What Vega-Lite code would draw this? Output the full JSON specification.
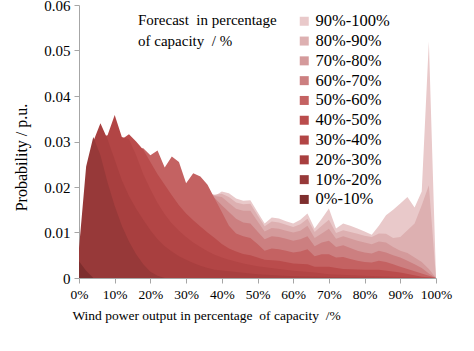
{
  "$schema": "https://vega.github.io/schema/vega-lite/v6.json",
  "width": 357,
  "height": 273,
  "autosize": {"type": "none"},
  "padding": {"left": 79, "top": 5, "right": 38, "bottom": 73},
  "config": {
    "font": "Liberation Serif",
    "view": {"stroke": null},
    "axis": {"domainColor": "#a6a6a6", "tickColor": "#a6a6a6", "grid": false, "labelColor": "#000000", "titleColor": "#000000", "labelFont": "Liberation Serif", "titleFont": "Liberation Serif", "titleFontWeight": "normal"}
  },
  "data": {"values": [
    {"s":"90%-100%","x":0,"y":0},{"s":"90%-100%","x":10,"y":0.001},{"s":"90%-100%","x":20,"y":0.004},{"s":"90%-100%","x":30,"y":0.01},{"s":"90%-100%","x":36,"y":0.015},{"s":"90%-100%","x":38,"y":0.018},{"s":"90%-100%","x":40,"y":0.019},{"s":"90%-100%","x":42,"y":0.0186},{"s":"90%-100%","x":44,"y":0.0175},{"s":"90%-100%","x":46,"y":0.017},{"s":"90%-100%","x":48,"y":0.0171},{"s":"90%-100%","x":50,"y":0.0145},{"s":"90%-100%","x":52,"y":0.012},{"s":"90%-100%","x":54,"y":0.0133},{"s":"90%-100%","x":56,"y":0.0131},{"s":"90%-100%","x":58,"y":0.0125},{"s":"90%-100%","x":60,"y":0.012},{"s":"90%-100%","x":62,"y":0.0128},{"s":"90%-100%","x":64,"y":0.0142},{"s":"90%-100%","x":66,"y":0.0109},{"s":"90%-100%","x":68,"y":0.013},{"s":"90%-100%","x":70,"y":0.0153},{"s":"90%-100%","x":72,"y":0.0109},{"s":"90%-100%","x":74,"y":0.012},{"s":"90%-100%","x":76,"y":0.0115},{"s":"90%-100%","x":78,"y":0.0109},{"s":"90%-100%","x":80,"y":0.0102},{"s":"90%-100%","x":82,"y":0.0095},{"s":"90%-100%","x":84,"y":0.0115},{"s":"90%-100%","x":86,"y":0.0138},{"s":"90%-100%","x":88,"y":0.015},{"s":"90%-100%","x":90,"y":0.0164},{"s":"90%-100%","x":92,"y":0.0178},{"s":"90%-100%","x":94,"y":0.0155},{"s":"90%-100%","x":96,"y":0.019},{"s":"90%-100%","x":98,"y":0.052},{"s":"90%-100%","x":100,"y":0},
    {"s":"80%-90%","x":0,"y":0},{"s":"80%-90%","x":10,"y":0.003},{"s":"80%-90%","x":20,"y":0.009},{"s":"80%-90%","x":30,"y":0.0155},{"s":"80%-90%","x":36,"y":0.0185},{"s":"80%-90%","x":38,"y":0.0183},{"s":"80%-90%","x":40,"y":0.0185},{"s":"80%-90%","x":42,"y":0.0178},{"s":"80%-90%","x":44,"y":0.0166},{"s":"80%-90%","x":46,"y":0.0162},{"s":"80%-90%","x":48,"y":0.0163},{"s":"80%-90%","x":50,"y":0.0138},{"s":"80%-90%","x":52,"y":0.0114},{"s":"80%-90%","x":54,"y":0.0124},{"s":"80%-90%","x":56,"y":0.0122},{"s":"80%-90%","x":58,"y":0.0117},{"s":"80%-90%","x":60,"y":0.0112},{"s":"80%-90%","x":62,"y":0.0118},{"s":"80%-90%","x":64,"y":0.013},{"s":"80%-90%","x":66,"y":0.0101},{"s":"80%-90%","x":68,"y":0.0115},{"s":"80%-90%","x":70,"y":0.0128},{"s":"80%-90%","x":72,"y":0.0099},{"s":"80%-90%","x":74,"y":0.0105},{"s":"80%-90%","x":76,"y":0.0101},{"s":"80%-90%","x":78,"y":0.0097},{"s":"80%-90%","x":80,"y":0.0093},{"s":"80%-90%","x":82,"y":0.009},{"s":"80%-90%","x":84,"y":0.0098},{"s":"80%-90%","x":86,"y":0.0097},{"s":"80%-90%","x":88,"y":0.0088},{"s":"80%-90%","x":90,"y":0.009},{"s":"80%-90%","x":92,"y":0.0105},{"s":"80%-90%","x":94,"y":0.012},{"s":"80%-90%","x":96,"y":0.016},{"s":"80%-90%","x":98,"y":0.0204},{"s":"80%-90%","x":100,"y":0},
    {"s":"70%-80%","x":0,"y":0},{"s":"70%-80%","x":10,"y":0.006},{"s":"70%-80%","x":20,"y":0.014},{"s":"70%-80%","x":30,"y":0.018},{"s":"70%-80%","x":34,"y":0.0195},{"s":"70%-80%","x":36,"y":0.0188},{"s":"70%-80%","x":38,"y":0.018},{"s":"70%-80%","x":40,"y":0.0178},{"s":"70%-80%","x":42,"y":0.0165},{"s":"70%-80%","x":44,"y":0.0152},{"s":"70%-80%","x":46,"y":0.0148},{"s":"70%-80%","x":48,"y":0.0148},{"s":"70%-80%","x":50,"y":0.0125},{"s":"70%-80%","x":52,"y":0.0102},{"s":"70%-80%","x":54,"y":0.011},{"s":"70%-80%","x":56,"y":0.0108},{"s":"70%-80%","x":58,"y":0.0104},{"s":"70%-80%","x":60,"y":0.01},{"s":"70%-80%","x":62,"y":0.0104},{"s":"70%-80%","x":64,"y":0.0115},{"s":"70%-80%","x":66,"y":0.0088},{"s":"70%-80%","x":68,"y":0.0098},{"s":"70%-80%","x":70,"y":0.0108},{"s":"70%-80%","x":72,"y":0.0086},{"s":"70%-80%","x":74,"y":0.0092},{"s":"70%-80%","x":76,"y":0.0087},{"s":"70%-80%","x":78,"y":0.0082},{"s":"70%-80%","x":80,"y":0.0078},{"s":"70%-80%","x":82,"y":0.0074},{"s":"70%-80%","x":84,"y":0.008},{"s":"70%-80%","x":86,"y":0.0078},{"s":"70%-80%","x":88,"y":0.0068},{"s":"70%-80%","x":90,"y":0.006},{"s":"70%-80%","x":92,"y":0.0055},{"s":"70%-80%","x":94,"y":0.0045},{"s":"70%-80%","x":96,"y":0.0035},{"s":"70%-80%","x":98,"y":0.002},{"s":"70%-80%","x":100,"y":0},
    {"s":"60%-70%","x":0,"y":0},{"s":"60%-70%","x":10,"y":0.01},{"s":"60%-70%","x":20,"y":0.018},{"s":"60%-70%","x":30,"y":0.0195},{"s":"60%-70%","x":32,"y":0.0205},{"s":"60%-70%","x":34,"y":0.0198},{"s":"60%-70%","x":36,"y":0.019},{"s":"60%-70%","x":38,"y":0.0176},{"s":"60%-70%","x":40,"y":0.016},{"s":"60%-70%","x":42,"y":0.0145},{"s":"60%-70%","x":44,"y":0.013},{"s":"60%-70%","x":46,"y":0.0122},{"s":"60%-70%","x":48,"y":0.012},{"s":"60%-70%","x":50,"y":0.0102},{"s":"60%-70%","x":52,"y":0.0085},{"s":"60%-70%","x":54,"y":0.0092},{"s":"60%-70%","x":56,"y":0.009},{"s":"60%-70%","x":58,"y":0.0086},{"s":"60%-70%","x":60,"y":0.0082},{"s":"60%-70%","x":62,"y":0.0085},{"s":"60%-70%","x":64,"y":0.0092},{"s":"60%-70%","x":66,"y":0.007},{"s":"60%-70%","x":68,"y":0.0078},{"s":"60%-70%","x":70,"y":0.0082},{"s":"60%-70%","x":72,"y":0.0068},{"s":"60%-70%","x":74,"y":0.0072},{"s":"60%-70%","x":76,"y":0.0066},{"s":"60%-70%","x":78,"y":0.006},{"s":"60%-70%","x":80,"y":0.0056},{"s":"60%-70%","x":82,"y":0.0054},{"s":"60%-70%","x":84,"y":0.006},{"s":"60%-70%","x":86,"y":0.0056},{"s":"60%-70%","x":88,"y":0.005},{"s":"60%-70%","x":90,"y":0.0045},{"s":"60%-70%","x":92,"y":0.0038},{"s":"60%-70%","x":94,"y":0.003},{"s":"60%-70%","x":96,"y":0.0022},{"s":"60%-70%","x":98,"y":0.001},{"s":"60%-70%","x":100,"y":0},
    {"s":"50%-60%","x":0,"y":0.001},{"s":"50%-60%","x":6,"y":0.015},{"s":"50%-60%","x":12,"y":0.025},{"s":"50%-60%","x":16,"y":0.0285},{"s":"50%-60%","x":18,"y":0.0285},{"s":"50%-60%","x":20,"y":0.027},{"s":"50%-60%","x":22,"y":0.028},{"s":"50%-60%","x":24,"y":0.0243},{"s":"50%-60%","x":26,"y":0.0267},{"s":"50%-60%","x":28,"y":0.0255},{"s":"50%-60%","x":30,"y":0.0208},{"s":"50%-60%","x":32,"y":0.023},{"s":"50%-60%","x":34,"y":0.0223},{"s":"50%-60%","x":36,"y":0.0205},{"s":"50%-60%","x":38,"y":0.0175},{"s":"50%-60%","x":40,"y":0.0145},{"s":"50%-60%","x":42,"y":0.0115},{"s":"50%-60%","x":44,"y":0.0098},{"s":"50%-60%","x":46,"y":0.0092},{"s":"50%-60%","x":48,"y":0.0088},{"s":"50%-60%","x":50,"y":0.0075},{"s":"50%-60%","x":52,"y":0.006},{"s":"50%-60%","x":54,"y":0.0065},{"s":"50%-60%","x":56,"y":0.0063},{"s":"50%-60%","x":58,"y":0.006},{"s":"50%-60%","x":60,"y":0.0056},{"s":"50%-60%","x":62,"y":0.0058},{"s":"50%-60%","x":64,"y":0.0063},{"s":"50%-60%","x":66,"y":0.0048},{"s":"50%-60%","x":68,"y":0.0052},{"s":"50%-60%","x":70,"y":0.0052},{"s":"50%-60%","x":72,"y":0.0045},{"s":"50%-60%","x":74,"y":0.0046},{"s":"50%-60%","x":76,"y":0.0042},{"s":"50%-60%","x":78,"y":0.0038},{"s":"50%-60%","x":80,"y":0.0035},{"s":"50%-60%","x":82,"y":0.0034},{"s":"50%-60%","x":84,"y":0.0038},{"s":"50%-60%","x":86,"y":0.0035},{"s":"50%-60%","x":88,"y":0.003},{"s":"50%-60%","x":90,"y":0.0025},{"s":"50%-60%","x":94,"y":0.0015},{"s":"50%-60%","x":96,"y":0.001},{"s":"50%-60%","x":100,"y":0},
    {"s":"40%-50%","x":0,"y":0.002},{"s":"40%-50%","x":4,"y":0.02},{"s":"40%-50%","x":8,"y":0.028},{"s":"40%-50%","x":10,"y":0.0295},{"s":"40%-50%","x":12,"y":0.0305},{"s":"40%-50%","x":14,"y":0.0316},{"s":"40%-50%","x":16,"y":0.03},{"s":"40%-50%","x":18,"y":0.0282},{"s":"40%-50%","x":20,"y":0.0255},{"s":"40%-50%","x":22,"y":0.0228},{"s":"40%-50%","x":24,"y":0.0205},{"s":"40%-50%","x":26,"y":0.0182},{"s":"40%-50%","x":28,"y":0.016},{"s":"40%-50%","x":30,"y":0.0142},{"s":"40%-50%","x":32,"y":0.0127},{"s":"40%-50%","x":34,"y":0.0113},{"s":"40%-50%","x":36,"y":0.01},{"s":"40%-50%","x":38,"y":0.0088},{"s":"40%-50%","x":40,"y":0.0075},{"s":"40%-50%","x":42,"y":0.0065},{"s":"40%-50%","x":44,"y":0.0058},{"s":"40%-50%","x":46,"y":0.0053},{"s":"40%-50%","x":48,"y":0.005},{"s":"40%-50%","x":50,"y":0.0045},{"s":"40%-50%","x":52,"y":0.004},{"s":"40%-50%","x":56,"y":0.0038},{"s":"40%-50%","x":60,"y":0.0032},{"s":"40%-50%","x":64,"y":0.003},{"s":"40%-50%","x":66,"y":0.0025},{"s":"40%-50%","x":70,"y":0.0025},{"s":"40%-50%","x":74,"y":0.002},{"s":"40%-50%","x":80,"y":0.0018},{"s":"40%-50%","x":84,"y":0.0018},{"s":"40%-50%","x":90,"y":0.0012},{"s":"40%-50%","x":96,"y":0.0003},{"s":"40%-50%","x":100,"y":0},
    {"s":"30%-40%","x":0,"y":0.003},{"s":"30%-40%","x":2,"y":0.016},{"s":"30%-40%","x":4,"y":0.026},{"s":"30%-40%","x":6,"y":0.031},{"s":"30%-40%","x":8,"y":0.0314},{"s":"30%-40%","x":10,"y":0.0358},{"s":"30%-40%","x":12,"y":0.031},{"s":"30%-40%","x":14,"y":0.0305},{"s":"30%-40%","x":16,"y":0.027},{"s":"30%-40%","x":18,"y":0.0228},{"s":"30%-40%","x":20,"y":0.0195},{"s":"30%-40%","x":22,"y":0.0165},{"s":"30%-40%","x":24,"y":0.014},{"s":"30%-40%","x":26,"y":0.012},{"s":"30%-40%","x":28,"y":0.0104},{"s":"30%-40%","x":30,"y":0.009},{"s":"30%-40%","x":32,"y":0.0078},{"s":"30%-40%","x":34,"y":0.0068},{"s":"30%-40%","x":36,"y":0.0059},{"s":"30%-40%","x":38,"y":0.0051},{"s":"30%-40%","x":40,"y":0.0045},{"s":"30%-40%","x":42,"y":0.004},{"s":"30%-40%","x":46,"y":0.0032},{"s":"30%-40%","x":50,"y":0.0026},{"s":"30%-40%","x":56,"y":0.002},{"s":"30%-40%","x":60,"y":0.0016},{"s":"30%-40%","x":66,"y":0.0012},{"s":"30%-40%","x":70,"y":0.0008},{"s":"30%-40%","x":80,"y":0.0005},{"s":"30%-40%","x":90,"y":0.0002},{"s":"30%-40%","x":100,"y":0},
    {"s":"20%-30%","x":0,"y":0.005},{"s":"20%-30%","x":2,"y":0.022},{"s":"20%-30%","x":4,"y":0.03},{"s":"20%-30%","x":6,"y":0.034},{"s":"20%-30%","x":8,"y":0.0305},{"s":"20%-30%","x":10,"y":0.026},{"s":"20%-30%","x":12,"y":0.0215},{"s":"20%-30%","x":14,"y":0.018},{"s":"20%-30%","x":16,"y":0.0152},{"s":"20%-30%","x":18,"y":0.0128},{"s":"20%-30%","x":20,"y":0.0105},{"s":"20%-30%","x":22,"y":0.0085},{"s":"20%-30%","x":24,"y":0.007},{"s":"20%-30%","x":26,"y":0.0058},{"s":"20%-30%","x":28,"y":0.0048},{"s":"20%-30%","x":30,"y":0.004},{"s":"20%-30%","x":32,"y":0.0033},{"s":"20%-30%","x":34,"y":0.0027},{"s":"20%-30%","x":36,"y":0.0022},{"s":"20%-30%","x":38,"y":0.0018},{"s":"20%-30%","x":42,"y":0.0015},{"s":"20%-30%","x":50,"y":0.0008},{"s":"20%-30%","x":60,"y":0.0004},{"s":"20%-30%","x":70,"y":0.0002},{"s":"20%-30%","x":90,"y":0},{"s":"20%-30%","x":100,"y":0},
    {"s":"10%-20%","x":0,"y":0.0065},{"s":"10%-20%","x":2,"y":0.0245},{"s":"10%-20%","x":4,"y":0.031},{"s":"10%-20%","x":6,"y":0.027},{"s":"10%-20%","x":8,"y":0.021},{"s":"10%-20%","x":10,"y":0.0158},{"s":"10%-20%","x":12,"y":0.0115},{"s":"10%-20%","x":14,"y":0.008},{"s":"10%-20%","x":16,"y":0.0052},{"s":"10%-20%","x":18,"y":0.003},{"s":"10%-20%","x":20,"y":0.0014},{"s":"10%-20%","x":22,"y":0.0005},{"s":"10%-20%","x":24,"y":0},
    {"s":"0%-10%","x":0,"y":0.0037},{"s":"0%-10%","x":2,"y":0.0016},{"s":"0%-10%","x":4,"y":0}
  ]},
  "mark": {"type": "area", "interpolate": "linear", "opacity": 1},
  "encoding": {
    "x": {"field": "x", "type": "quantitative", "scale": {"domain": [0, 100], "nice": false},
      "axis": {"values": [0,10,20,30,40,50,60,70,80,90,100], "labelExpr": "datum.value + '%'", "tickSize": 5, "labelPadding": 4, "labelFontSize": 13.5, "labelFlush": false,
        "title": "Wind power output in percentage\u00a0 of capacity\u00a0 /%", "titleFontSize": 13.5, "titleX": 127, "titleY": 37, "titleAlign": "center", "titleBaseline": "middle"}},
    "y": {"field": "y", "type": "quantitative", "stack": null, "scale": {"domain": [0, 0.06], "nice": false},
      "axis": {"values": [0,0.01,0.02,0.03,0.04,0.05,0.06], "format": ".2~f", "tickSize": 5, "labelPadding": 4, "labelFontSize": 15,
        "title": "Probability / p.u.", "titleFontSize": 16, "titleX": -58, "titleY": 152, "titleAlign": "center", "titleBaseline": "middle", "titleAngle": -90}},
    "color": {"field": "s", "type": "nominal",
      "scale": {"domain": ["90%-100%","80%-90%","70%-80%","60%-70%","50%-60%","40%-50%","30%-40%","20%-30%","10%-20%","0%-10%"],
        "range": ["#e9c9ca","#ddb0b1","#d49a9b","#cc7f80","#c46262","#ba4c4c","#b24545","#a83f3f","#973939","#7e2e2e"]},
      "legend": {"orient": "none", "legendX": 59, "legendY": 8, "title": ["Forecast\u00a0 in percentage", "of capacity\u00a0 / %"], "titleOrient": "left", "titleAlign": "left", "titleAnchor": "start", "titleFontSize": 15, "titleFont": "Liberation Serif", "titleFontWeight": "normal", "titleColor": "#000000", "titlePadding": 19, "titleLineHeight": 21, "labelFontSize": 16.5, "labelFont": "Liberation Serif", "labelColor": "#000000", "symbolType": "square", "symbolSize": 81, "symbolStrokeWidth": 0, "symbolOpacity": 1, "rowPadding": 2.8, "labelOffset": 3}}
  }
}
